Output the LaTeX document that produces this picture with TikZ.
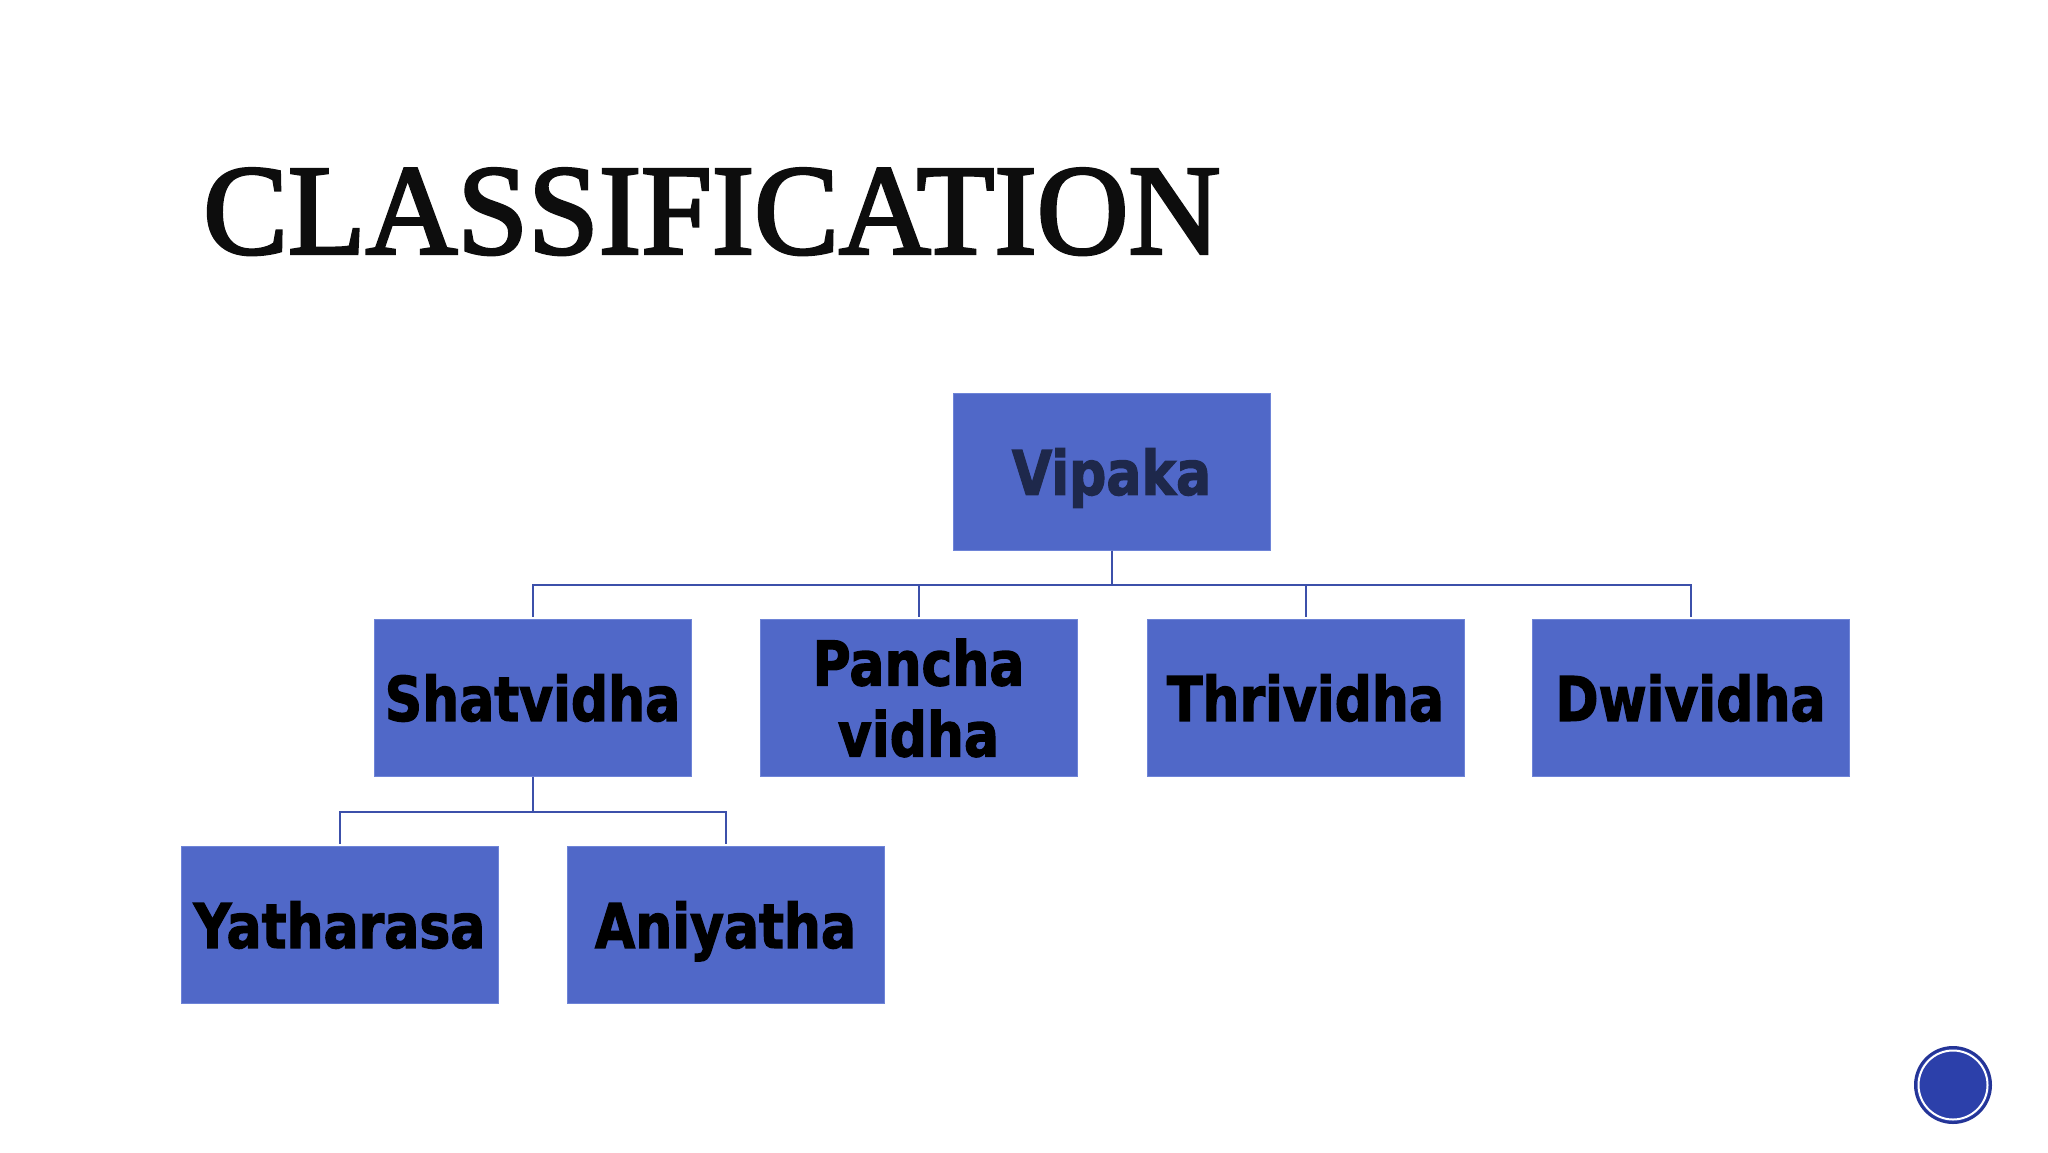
\documentclass[tikz,border=0pt]{standalone}
\usepackage{fontspec}
\usepackage{graphicx}
\newfontfamily\boxfont{DejaVu Sans Bold}[FakeBold=2.2]
\newfontfamily\titlefont{Liberation Serif}[FakeBold=2.5]
\definecolor{boxblue}{RGB}{80,104,200}
\definecolor{boxedge}{RGB}{110,132,215}
\definecolor{connblue}{RGB}{60,80,170}
\definecolor{vipcol}{RGB}{30,40,75}
\definecolor{circblue}{RGB}{44,64,170}
\definecolor{circedge}{RGB}{36,52,150}
\newcommand{\st}[1]{\scalebox{1}[1.18]{\raisebox{0pt}[\height][0pt]{#1}}}
\tikzset{
  chartbox/.style={rectangle, fill=boxblue, draw=boxedge, line width=1pt,
    minimum width=317pt, minimum height=157pt, inner sep=0pt,
    align=center, font=\boxfont\fontsize{52}{71}\selectfont, text=black},
  conn/.style={draw=connblue, line width=2pt, shorten >=2pt}
}
\begin{document}
\begin{tikzpicture}[x=1pt,y=-1pt]
\useasboundingbox (0,0) rectangle (2048,1152);
\fill[white] (0,0) rectangle (2048,1152);

\node[inner sep=0pt, anchor=south west, text=black!95] (title) at (203,255)
  {\resizebox{1017pt}{85pt}{\titlefont CLASSIFICATION}};

\node[chartbox, text=vipcol] (vip) at (1111.5,471.5) {\st{Vipaka}};
\node[chartbox] (shat) at (532.5,697.5) {\st{Shatvidha}};
\node[chartbox] (pan) at (918.5,697.5) {\st{Pancha}\\\st{vidha}};
\node[chartbox] (thr) at (1305.5,697.5) {\st{Thrividha}};
\node[chartbox] (dwi) at (1690.5,697.5) {\st{Dwividha}};
\node[chartbox] (yat) at (339.5,924.5) {\st{Yatharasa}};
\node[chartbox] (ani) at (725.5,924.5) {\st{Aniyatha}};

\draw[conn] (vip.south) -- ++(0,34) -| (shat.north);
\draw[conn] (vip.south) -- ++(0,34) -| (pan.north);
\draw[conn] (vip.south) -- ++(0,34) -| (thr.north);
\draw[conn] (vip.south) -- ++(0,34) -| (dwi.north);
\draw[conn] (shat.south) -- ++(0,35) -| (yat.north);
\draw[conn] (shat.south) -- ++(0,35) -| (ani.north);

\fill[circedge] (1953,1085) circle (39);
\fill[circblue] (1953,1085) circle (36.5);
\draw[white, line width=2pt] (1953,1085) circle (34.5);
\end{tikzpicture}
\end{document}
